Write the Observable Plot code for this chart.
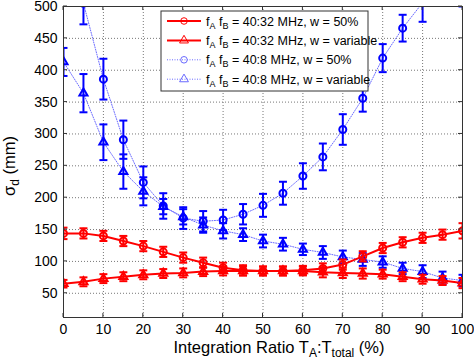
<!DOCTYPE html>
<html><head><meta charset="utf-8">
<script src="https://cdn.jsdelivr.net/npm/d3@7"></script>
<script src="https://cdn.jsdelivr.net/npm/@observablehq/plot@0.6"></script>
<style>body{margin:0;background:#fff}#chart svg{display:block}</style>
</head><body><div id="chart"></div><script>
// Integration ratio (%)
const ratio = [0,5,10,15,20,25,30,35,40,45,50,55,60,65,70,75,80,85,90,95,100];
// fA:fB = 40:32 MHz, w = 50%  (red circles)
const red50    = [144,144,140,132,124,115,106,98,90,86,85,85,86,89,95,108,121,130,137,142,148];
const red50Err = [9,8,8,8,8,8,8,8,8,8,7,7,7,8,8,8,8,8,8,8,12];
// fA:fB = 40:32 MHz, w = variable  (red triangles)
const redVar    = [65,68,73,76,79,81,82,84,85,85,85,85,85,83,82,81,80,76,72,70,66];
const redVarErr = [6,7,7,7,7,7,7,7,7,7,7,7,7,8,8,8,7,7,7,7,8];
// fA:fB = 40:8 MHz, w = 50%  (blue circles)
const blue50    = [null,505,386,291,224,187,168,163,165,174,188,207,234,264,307,356,419,466,506,null,535];
const blue50Err = [null,33,32,30,25,20,17,16,16,16,18,18,20,21,24,21,22,21,30,null,35];
// fA:fB = 40:8 MHz, w = variable  (blue triangles)
const blueVar    = [413,364,287,241,210,186,170,157,148,142,132,127,119,114,107,103,99,89,84,74,70];
const blueVarErr = [22,30,28,27,22,12,12,12,12,10,10,10,9,10,10,10,9,9,10,10,9];
// tick labels
const xTicks = [0,10,20,30,40,50,60,70,80,90,100];
const yTicks = [50,100,150,200,250,300,350,400,450,500];
const seriesNames = ["40:32 MHz, w = 50%","40:32 MHz, w = variable","40:8 MHz, w = 50%","40:8 MHz, w = variable"];

const RED = "#ff0000", BLUE = "#0000ff", BLUELINE = "#6a6aff";
const rows = (vals, errs) => ratio.map((x,i)=>({x, y: vals[i], e: errs[i]})).filter(d => d.y != null);
const R50 = rows(red50, red50Err), RV = rows(redVar, redVarErr), B50 = rows(blue50, blue50Err), BV = rows(blueVar, blueVarErr);

const errMarks = (data, color) => [
  Plot.ruleX(data, {x: "x", y1: d => d.y - d.e, y2: d => d.y + d.e, stroke: color, strokeWidth: 2, clip: true}),
  Plot.link(data, {x1: d => d.x - 1, x2: d => d.x + 1, y1: d => d.y - d.e, y2: d => d.y - d.e, stroke: color, strokeWidth: 2, clip: true}),
  Plot.link(data, {x1: d => d.x - 1, x2: d => d.x + 1, y1: d => d.y + d.e, y2: d => d.y + d.e, stroke: color, strokeWidth: 2, clip: true})
];

const plot = Plot.plot({
  width: 474, height: 361,
  marginLeft: 63, marginRight: 12, marginTop: 6, marginBottom: 44,
  style: {fontFamily: "'Liberation Sans', Arial, sans-serif", fontSize: "14px", color: "#000", background: "#fff"},
  x: {domain: [0, 100]},
  y: {domain: [12, 500]},
  marks: [
    Plot.ruleX(xTicks, {x: d => d, stroke: "#777", strokeWidth: 1, strokeDasharray: "1,2"}),
    Plot.ruleY(yTicks, {y: d => d, stroke: "#777", strokeWidth: 1, strokeDasharray: "1,2"}),
    Plot.axisX({ticks: xTicks, tickSize: 0, tickPadding: 7, label: null, fontSize: 14}),
    Plot.axisY({ticks: yTicks, tickSize: 0, tickPadding: 6, label: null, fontSize: 14}),
    // blue series
    Plot.line(B50, {x: "x", y: "y", stroke: BLUELINE, strokeWidth: 1, strokeDasharray: "1,1.5", clip: true}),
    Plot.line(BV, {x: "x", y: "y", stroke: BLUELINE, strokeWidth: 1, strokeDasharray: "1,1.5", clip: true}),
    ...errMarks(B50, BLUE),
    ...errMarks(BV, BLUE),
    Plot.dot(B50, {x: "x", y: "y", r: 3.5, stroke: BLUE, strokeWidth: 2, fill: "none", clip: true}),
    Plot.dot(BV, {x: "x", y: "y", r: 3, symbol: "triangle", stroke: BLUE, strokeWidth: 2, fill: "none", clip: true}),
    // red series
    Plot.line(R50, {x: "x", y: "y", stroke: RED, strokeWidth: 2, clip: true}),
    Plot.line(RV, {x: "x", y: "y", stroke: RED, strokeWidth: 2, clip: true}),
    ...errMarks(R50, RED),
    ...errMarks(RV, RED),
    Plot.dot(R50, {x: "x", y: "y", r: 3.5, stroke: RED, strokeWidth: 2, fill: "none", clip: true}),
    Plot.dot(RV, {x: "x", y: "y", r: 3, symbol: "triangle", stroke: RED, strokeWidth: 2, fill: "none", clip: true}),
    Plot.frame({stroke: "#333", strokeWidth: 1})
  ]
});
document.getElementById("chart").append(plot);

const svg = d3.select(plot);
const font = "'Liberation Sans', Arial, sans-serif";
// inward ticks
const xs = plot.scale("x"), ys = plot.scale("y");
const tg = svg.append("g").attr("stroke", "#333").attr("stroke-width", 1);
const [yb, yt] = [ys.apply(12), ys.apply(500)], [xl, xr] = [xs.apply(0), xs.apply(100)];
xTicks.forEach(t => { const px = xs.apply(t);
  tg.append("line").attr("x1", px).attr("x2", px).attr("y1", yb).attr("y2", yb - 4);
  tg.append("line").attr("x1", px).attr("x2", px).attr("y1", yt).attr("y2", yt + 4); });
yTicks.forEach(t => { const py = ys.apply(t);
  tg.append("line").attr("y1", py).attr("y2", py).attr("x1", xl).attr("x2", xl + 4);
  tg.append("line").attr("y1", py).attr("y2", py).attr("x1", xr).attr("x2", xr - 4); });

// axis titles
const xt = svg.append("text").attr("x", 279).attr("y", 353).attr("text-anchor", "middle")
  .attr("font-family", font).attr("font-size", 16.5).attr("fill", "#000");
xt.append("tspan").text("Integration Ratio T");
xt.append("tspan").attr("dy", 4).attr("font-size", 12).text("A");
xt.append("tspan").attr("dy", -4).text(":T");
xt.append("tspan").attr("dy", 4).attr("font-size", 12).text("total");
xt.append("tspan").attr("dy", -4).text(" (%)");

const yl = svg.append("text").attr("transform", "translate(15,166) rotate(-90)").attr("text-anchor", "middle")
  .attr("font-family", font).attr("font-size", 16.5).attr("fill", "#000");
yl.append("tspan").text("σ");
yl.append("tspan").attr("dy", 4).attr("font-size", 12).text("d");
yl.append("tspan").attr("dy", -4).text(" (mm)");

// legend
const lg = svg.append("g");
lg.append("rect").attr("x", 161).attr("y", 11).attr("width", 207).attr("height", 80)
  .attr("fill", "#fff").attr("stroke", "#333").attr("stroke-width", 1);
const styles = [
  {c: RED, dash: null, w: 2, sym: d3.symbolCircle, mc: RED},
  {c: RED, dash: null, w: 2, sym: d3.symbolTriangle, mc: RED},
  {c: BLUELINE, dash: "1,1.5", w: 1, sym: d3.symbolCircle, mc: BLUELINE},
  {c: BLUELINE, dash: "1,1.5", w: 1, sym: d3.symbolTriangle, mc: BLUELINE}
];
seriesNames.forEach((name, i) => {
  const y = 21 + i * 19.4, s = styles[i];
  lg.append("line").attr("x1", 167).attr("x2", 201).attr("y1", y).attr("y2", y)
    .attr("stroke", s.c).attr("stroke-width", s.w).attr("stroke-dasharray", s.dash);
  lg.append("path").attr("transform", `translate(184,${y})`).attr("d", d3.symbol(s.sym, 34)())
    .attr("fill", "none").attr("stroke", s.mc).attr("stroke-width", 1);
  const t = lg.append("text").attr("x", 206).attr("y", y + 4.5).attr("text-anchor", "start")
    .attr("font-family", font).attr("font-size", 12.5).attr("fill", "#000");
  t.append("tspan").text("f");
  t.append("tspan").attr("dy", 3).attr("font-size", 9).text("A");
  t.append("tspan").attr("dy", -3).text(" f");
  t.append("tspan").attr("dy", 3).attr("font-size", 9).text("B");
  t.append("tspan").attr("dy", -3).text(" = " + name);
});
</script></body></html>
